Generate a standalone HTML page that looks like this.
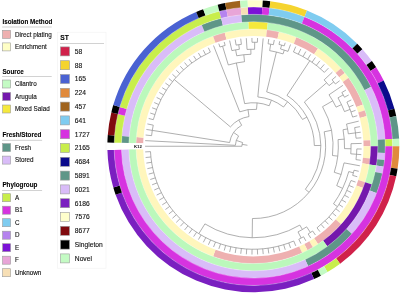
<!DOCTYPE html>
<html><head><meta charset="utf-8"><title>Phylogenetic tree</title>
<style>
html,body{margin:0;padding:0;background:#fff;}
svg{display:block;}
svg text{font-family:"Liberation Sans",sans-serif;}
</style></head><body>
<svg width="400" height="293" viewBox="0 0 400 293">
<rect width="400" height="293" fill="#fff"/>
<path d="M135.94 143.2A117.45 117.45 0 0 1 136.26 137.11L143.48 137.68A110.2 110.2 0 0 0 143.19 143.39Z" fill="#eeb0b0"/>
<path d="M136.26 137.11A117.45 117.45 0 0 1 213.01 35.94L215.5 42.75A110.2 110.2 0 0 0 143.48 137.68Z" fill="#fff6bc"/>
<path d="M213.01 35.94A117.45 117.45 0 0 1 224.66 32.36L226.43 39.39A110.2 110.2 0 0 0 215.5 42.75Z" fill="#eeb0b0"/>
<path d="M224.66 32.36A117.45 117.45 0 0 1 267.03 29.6L266.18 36.8A110.2 110.2 0 0 0 226.43 39.39Z" fill="#fff6bc"/>
<path d="M267.03 29.6A117.45 117.45 0 0 1 279.05 31.65L277.46 38.72A110.2 110.2 0 0 0 266.18 36.8Z" fill="#eeb0b0"/>
<path d="M279.05 31.65A117.45 117.45 0 0 1 296.51 37.02L293.85 43.76A110.2 110.2 0 0 0 277.46 38.72Z" fill="#fff6bc"/>
<path d="M296.51 37.02A117.45 117.45 0 0 1 318.11 48.27L314.11 54.32A110.2 110.2 0 0 0 293.85 43.76Z" fill="#eeb0b0"/>
<path d="M318.11 48.27A117.45 117.45 0 0 1 341.09 68.18L335.68 73A110.2 110.2 0 0 0 314.11 54.32Z" fill="#fff6bc"/>
<path d="M341.09 68.18A117.45 117.45 0 0 1 345.03 72.84L339.37 77.37A110.2 110.2 0 0 0 335.68 73Z" fill="#eeb0b0"/>
<path d="M345.03 72.84A117.45 117.45 0 0 1 348.71 77.69L342.83 81.92A110.2 110.2 0 0 0 339.37 77.37Z" fill="#fff6bc"/>
<path d="M348.71 77.69A117.45 117.45 0 0 1 363.12 104.47L356.34 107.05A110.2 110.2 0 0 0 342.83 81.92Z" fill="#eeb0b0"/>
<path d="M363.12 104.47A117.45 117.45 0 0 1 365.14 110.22L358.24 112.45A110.2 110.2 0 0 0 356.34 107.05Z" fill="#fff6bc"/>
<path d="M365.14 110.22A117.45 117.45 0 0 1 366.86 116.07L359.85 117.94A110.2 110.2 0 0 0 358.24 112.45Z" fill="#eeb0b0"/>
<path d="M366.86 116.07A117.45 117.45 0 0 1 370.64 140.13L363.4 140.51A110.2 110.2 0 0 0 359.85 117.94Z" fill="#fff6bc"/>
<path d="M370.64 140.13A117.45 117.45 0 0 1 370.8 146.22L363.55 146.23A110.2 110.2 0 0 0 363.4 140.51Z" fill="#eeb0b0"/>
<path d="M370.8 146.22A117.45 117.45 0 0 1 370.17 158.4L362.96 157.65A110.2 110.2 0 0 0 363.55 146.23Z" fill="#fff6bc"/>
<path d="M370.17 158.4A117.45 117.45 0 0 1 369.38 164.45L362.22 163.32A110.2 110.2 0 0 0 362.96 157.65Z" fill="#eeb0b0"/>
<path d="M369.38 164.45A117.45 117.45 0 0 1 365.15 182.23L358.25 180.01A110.2 110.2 0 0 0 362.22 163.32Z" fill="#fff6bc"/>
<path d="M365.15 182.23A117.45 117.45 0 0 1 363.14 187.98L356.36 185.41A110.2 110.2 0 0 0 358.25 180.01Z" fill="#eeb0b0"/>
<path d="M363.14 187.98A117.45 117.45 0 0 1 341.13 224.29L335.71 219.47A110.2 110.2 0 0 0 356.36 185.41Z" fill="#fff6bc"/>
<path d="M341.13 224.29A117.45 117.45 0 0 1 318.15 244.2L314.15 238.16A110.2 110.2 0 0 0 335.71 219.47Z" fill="#eeb0b0"/>
<path d="M318.15 244.2A117.45 117.45 0 0 1 312.98 247.44L309.3 241.19A110.2 110.2 0 0 0 314.15 238.16Z" fill="#fff6bc"/>
<path d="M312.98 247.44A117.45 117.45 0 0 1 307.65 250.39L304.3 243.97A110.2 110.2 0 0 0 309.3 241.19Z" fill="#eeb0b0"/>
<path d="M307.65 250.39A117.45 117.45 0 0 1 302.17 253.07L299.16 246.48A110.2 110.2 0 0 0 304.3 243.97Z" fill="#fff6bc"/>
<path d="M302.17 253.07A117.45 117.45 0 0 1 213.06 256.57L215.55 249.76A110.2 110.2 0 0 0 299.16 246.48Z" fill="#eeb0b0"/>
<path d="M213.06 256.57A117.45 117.45 0 0 1 135.94 149.35L143.19 149.16A110.2 110.2 0 0 0 215.55 249.76Z" fill="#fff6bc"/>
<path d="M128.74 143.01A124.65 124.65 0 0 1 248.48 21.7L248.77 29.04A117.3 117.3 0 0 0 136.09 143.21Z" fill="#bbf8bb"/>
<path d="M248.48 21.7A124.65 124.65 0 0 1 267.87 22.45L267.01 29.75A117.3 117.3 0 0 0 248.77 29.04Z" fill="#f5e93c"/>
<path d="M267.87 22.45A124.65 124.65 0 0 1 378 146.22L370.65 146.22A117.3 117.3 0 0 0 267.01 29.75Z" fill="#bbf8bb"/>
<path d="M378 146.22A124.65 124.65 0 0 1 376.49 165.56L369.23 164.42A117.3 117.3 0 0 0 370.65 146.22Z" fill="#7418ac"/>
<path d="M376.49 165.56A124.65 124.65 0 0 1 372.01 184.43L365.01 182.18A117.3 117.3 0 0 0 369.23 164.42Z" fill="#bbf8bb"/>
<path d="M372.01 184.43A124.65 124.65 0 0 1 327.43 246.5L323.06 240.59A117.3 117.3 0 0 0 365.01 182.18Z" fill="#7418ac"/>
<path d="M327.43 246.5A124.65 124.65 0 0 1 128.74 149.54L136.09 149.35A117.3 117.3 0 0 0 323.06 240.59Z" fill="#bbf8bb"/>
<path d="M121.34 142.82A132.05 132.05 0 0 1 121.7 135.98L129.23 136.56A124.5 124.5 0 0 0 128.89 143.02Z" fill="#5f9688"/>
<path d="M121.7 135.98A132.05 132.05 0 0 1 201.62 24.75L204.58 31.7A124.5 124.5 0 0 0 129.23 136.56Z" fill="#d9bcf8"/>
<path d="M201.62 24.75A132.05 132.05 0 0 1 221.1 18.2L222.94 25.52A124.5 124.5 0 0 0 204.58 31.7Z" fill="#5f9688"/>
<path d="M221.1 18.2A132.05 132.05 0 0 1 241.35 14.75L242.04 22.26A124.5 124.5 0 0 0 222.94 25.52Z" fill="#d9bcf8"/>
<path d="M241.35 14.75A132.05 132.05 0 0 1 371.23 86.74L364.49 90.14A124.5 124.5 0 0 0 242.04 22.26Z" fill="#5f9688"/>
<path d="M371.23 86.74A132.05 132.05 0 0 1 385.22 139.37L377.68 139.76A124.5 124.5 0 0 0 364.49 90.14Z" fill="#d9bcf8"/>
<path d="M385.22 139.37A132.05 132.05 0 0 1 385.22 153.07L377.68 152.68A124.5 124.5 0 0 0 377.68 139.76Z" fill="#5f9688"/>
<path d="M385.22 153.07A132.05 132.05 0 0 1 384.69 159.91L377.18 159.13A124.5 124.5 0 0 0 377.68 152.68Z" fill="#d9bcf8"/>
<path d="M384.69 159.91A132.05 132.05 0 0 1 383.81 166.71L376.35 165.54A124.5 124.5 0 0 0 377.18 159.13Z" fill="#5f9688"/>
<path d="M383.81 166.71A132.05 132.05 0 0 1 382.57 173.45L375.18 171.9A124.5 124.5 0 0 0 376.35 165.54Z" fill="#d9bcf8"/>
<path d="M382.57 173.45A132.05 132.05 0 0 1 376.78 193.17L369.73 190.49A124.5 124.5 0 0 0 375.18 171.9Z" fill="#5f9688"/>
<path d="M376.78 193.17A132.05 132.05 0 0 1 352.04 233.99L346.4 228.97A124.5 124.5 0 0 0 369.73 190.49Z" fill="#d9bcf8"/>
<path d="M352.04 233.99A132.05 132.05 0 0 1 308.24 266.35L305.1 259.48A124.5 124.5 0 0 0 346.4 228.97Z" fill="#5f9688"/>
<path d="M308.24 266.35A132.05 132.05 0 0 1 121.35 149.74L128.89 149.54A124.5 124.5 0 0 0 305.1 259.48Z" fill="#d9bcf8"/>
<path d="M114.05 142.63A139.35 139.35 0 0 1 117.79 113.99L125.03 115.71A131.9 131.9 0 0 0 121.49 142.83Z" fill="#c8ee4c"/>
<path d="M117.79 113.99A139.35 139.35 0 0 1 119.64 106.99L126.79 109.09A131.9 131.9 0 0 0 125.03 115.71Z" fill="#d633e0"/>
<path d="M119.64 106.99A139.35 139.35 0 0 1 219.31 11.12L221.13 18.34A131.9 131.9 0 0 0 126.79 109.09Z" fill="#c8ee4c"/>
<path d="M219.31 11.12A139.35 139.35 0 0 1 226.37 9.54L227.82 16.85A131.9 131.9 0 0 0 221.13 18.34Z" fill="#b583ee"/>
<path d="M226.37 9.54A139.35 139.35 0 0 1 240.69 7.48L241.37 14.9A131.9 131.9 0 0 0 227.82 16.85Z" fill="#e8a5d8"/>
<path d="M240.69 7.48A139.35 139.35 0 0 1 247.91 7.01L248.2 14.45A131.9 131.9 0 0 0 241.37 14.9Z" fill="#f7dfb5"/>
<path d="M247.91 7.01A139.35 139.35 0 0 1 262.37 7.19L261.89 14.63A131.9 131.9 0 0 0 248.2 14.45Z" fill="#7b12d6"/>
<path d="M262.37 7.19A139.35 139.35 0 0 1 269.58 7.85L268.71 15.25A131.9 131.9 0 0 0 261.89 14.63Z" fill="#d633e0"/>
<path d="M269.58 7.85A139.35 139.35 0 0 1 304.56 16.65L301.83 23.58A131.9 131.9 0 0 0 268.71 15.25Z" fill="#7fccf0"/>
<path d="M304.56 16.65A139.35 139.35 0 0 1 392.51 138.99L385.07 139.38A131.9 131.9 0 0 0 301.83 23.58Z" fill="#d633e0"/>
<path d="M392.51 138.99A139.35 139.35 0 0 1 392.7 146.22L385.25 146.22A131.9 131.9 0 0 0 385.07 139.38Z" fill="#c8ee4c"/>
<path d="M392.7 146.22A139.35 139.35 0 0 1 114.05 149.93L121.5 149.73A131.9 131.9 0 0 0 385.25 146.22Z" fill="#d633e0"/>
<path d="M107.4 142.46A146 146 0 0 1 107.79 134.89L114.57 135.42A139.2 139.2 0 0 0 114.2 142.64Z" fill="#000000"/>
<path d="M107.79 134.89A146 146 0 0 1 111.32 112.45L117.93 114.02A139.2 139.2 0 0 0 114.57 135.42Z" fill="#800a0e"/>
<path d="M111.32 112.45A146 146 0 0 1 113.26 105.12L119.79 107.04A139.2 139.2 0 0 0 117.93 114.02Z" fill="#000000"/>
<path d="M113.26 105.12A146 146 0 0 1 196.16 11.92L198.82 18.18A139.2 139.2 0 0 0 119.79 107.04Z" fill="#4a62d2"/>
<path d="M196.16 11.92A146 146 0 0 1 203.21 9.13L205.54 15.52A139.2 139.2 0 0 0 198.82 18.18Z" fill="#000000"/>
<path d="M203.21 9.13A146 146 0 0 1 217.69 4.67L219.35 11.27A139.2 139.2 0 0 0 205.54 15.52Z" fill="#c4fbc4"/>
<path d="M217.69 4.67A146 146 0 0 1 225.09 3.01L226.4 9.68A139.2 139.2 0 0 0 219.35 11.27Z" fill="#000000"/>
<path d="M225.09 3.01A146 146 0 0 1 240.09 0.85L240.7 7.63A139.2 139.2 0 0 0 226.4 9.68Z" fill="#a0641f"/>
<path d="M240.09 0.85A146 146 0 0 1 247.65 0.36L247.92 7.16A139.2 139.2 0 0 0 240.7 7.63Z" fill="#c4fbc4"/>
<path d="M247.65 0.36A146 146 0 0 1 262.8 0.56L262.36 7.34A139.2 139.2 0 0 0 247.92 7.16Z" fill="#ffffcc"/>
<path d="M262.8 0.56A146 146 0 0 1 270.35 1.24L269.56 8A139.2 139.2 0 0 0 262.36 7.34Z" fill="#000000"/>
<path d="M270.35 1.24A146 146 0 0 1 307.01 10.47L304.51 16.79A139.2 139.2 0 0 0 269.56 8Z" fill="#f5d42f"/>
<path d="M307.01 10.47A146 146 0 0 1 357.24 43.67L352.4 48.45A139.2 139.2 0 0 0 304.51 16.79Z" fill="#7fccf0"/>
<path d="M357.24 43.67A146 146 0 0 1 362.42 49.2L357.34 53.72A139.2 139.2 0 0 0 352.4 48.45Z" fill="#000000"/>
<path d="M362.42 49.2A146 146 0 0 1 371.9 61.03L366.37 65A139.2 139.2 0 0 0 357.34 53.72Z" fill="#d9bcf8"/>
<path d="M371.9 61.03A146 146 0 0 1 376.16 67.29L370.44 70.97A139.2 139.2 0 0 0 366.37 65Z" fill="#000000"/>
<path d="M376.16 67.29A146 146 0 0 1 383.68 80.45L377.61 83.51A139.2 139.2 0 0 0 370.44 70.97Z" fill="#d633e0"/>
<path d="M383.68 80.45A146 146 0 0 1 394.45 108.74L387.88 110.49A139.2 139.2 0 0 0 377.61 83.51Z" fill="#0b0b8c"/>
<path d="M394.45 108.74A146 146 0 0 1 396.21 116.11L389.55 117.52A139.2 139.2 0 0 0 387.88 110.49Z" fill="#000000"/>
<path d="M396.21 116.11A146 146 0 0 1 399.15 138.64L392.36 139A139.2 139.2 0 0 0 389.55 117.52Z" fill="#5f9688"/>
<path d="M399.15 138.64A146 146 0 0 1 399.35 146.22L392.55 146.22A139.2 139.2 0 0 0 392.36 139Z" fill="#c4fbc4"/>
<path d="M399.35 146.22A146 146 0 0 1 397.59 168.87L390.87 167.82A139.2 139.2 0 0 0 392.55 146.22Z" fill="#e08a3c"/>
<path d="M397.59 168.87A146 146 0 0 1 396.22 176.32L389.56 174.92A139.2 139.2 0 0 0 390.87 167.82Z" fill="#000000"/>
<path d="M396.22 176.32A146 146 0 0 1 340.12 263.67L336.08 258.2A139.2 139.2 0 0 0 389.56 174.92Z" fill="#d0214a"/>
<path d="M340.12 263.67A146 146 0 0 1 327.48 272.03L324.03 266.17A139.2 139.2 0 0 0 336.08 258.2Z" fill="#c8ee4c"/>
<path d="M327.48 272.03A146 146 0 0 1 320.85 275.71L317.71 269.68A139.2 139.2 0 0 0 324.03 266.17Z" fill="#c4fbc4"/>
<path d="M320.85 275.71A146 146 0 0 1 314.04 279.04L311.21 272.85A139.2 139.2 0 0 0 317.71 269.68Z" fill="#000000"/>
<path d="M314.04 279.04A146 146 0 0 1 115.61 194.66L122.02 192.4A139.2 139.2 0 0 0 311.21 272.85Z" fill="#7a1fc0"/>
<path d="M115.61 194.66A146 146 0 0 1 113.28 187.44L119.8 185.52A139.2 139.2 0 0 0 122.02 192.4Z" fill="#000000"/>
<path d="M113.28 187.44A146 146 0 0 1 107.4 150.1L114.2 149.92A139.2 139.2 0 0 0 119.8 185.52Z" fill="#7a1fc0"/>
<path d="M136.09 143.21A117.3 117.3 0 1 1 136.09 149.29" fill="none" stroke="#fff" stroke-opacity="0.4" stroke-width="0.7"/>
<path d="M128.89 143.02A124.5 124.5 0 1 1 128.89 149.48" fill="none" stroke="#fff" stroke-opacity="0.4" stroke-width="0.7"/>
<path d="M121.49 142.83A131.9 131.9 0 1 1 121.49 149.67" fill="none" stroke="#fff" stroke-opacity="0.4" stroke-width="0.7"/>
<path d="M114.2 142.64A139.2 139.2 0 1 1 114.2 149.86" fill="none" stroke="#fff" stroke-opacity="0.4" stroke-width="0.7"/>
<path d="M241.95 146.25A11.4 11.4 0 0 1 242.57 142.55M241.95 146.25L145.05 146.25M242.57 142.55L236.33 140.41M235.37 145.32A18 18 0 0 1 238.59 135.95M235.37 145.32L145.2 140.63M238.59 135.95L233.67 132.51M229.64 142.53A24 24 0 0 1 241.68 125.28M229.64 142.53L152.29 130.38M151.6 135.65A102.3 102.3 0 0 1 153.25 125.16M151.6 135.65L145.63 135.02M152.29 130.38L146.36 129.45M153.25 125.16L147.38 123.92M241.68 125.28L238.77 120.03M230.42 126.9A30 30 0 0 1 249.01 116.57M230.42 126.9L174.25 79.5M153.32 119.68A103.5 103.5 0 0 1 210.35 52.11M153.32 119.68L148.68 118.45M154.83 114.52L150.26 113.05M156.61 109.45L152.13 107.75M158.65 104.48L154.26 102.55M160.95 99.62L156.66 97.46M163.49 94.89L159.32 92.51M166.28 90.3L162.24 87.7M169.3 85.85L165.4 83.05M172.55 81.57L168.8 78.57M176.01 77.47L172.43 74.28M179.69 73.55L176.27 70.17M183.56 69.82L180.32 66.28M187.62 66.3L184.57 62.59M191.86 63L189.01 59.14M196.26 59.92L193.61 55.91M200.82 57.07L198.38 52.94M205.52 54.47L203.3 50.21M210.35 52.11L208.35 47.74M249.01 116.57L247.99 109.64M239.74 111.84A37 37 0 0 1 256.53 109.39M239.74 111.84L213.53 45.54M256.53 109.39L257.09 102.91M244.65 103.63A43.5 43.5 0 0 1 269.21 105.75M244.65 103.63L236.35 62.97M228.34 65.01A85 85 0 0 1 244.53 61.71M228.34 65.01L222.54 46.19M219.95 47.02A104.7 104.7 0 0 1 225.15 45.42M219.95 47.02L218.81 43.61M225.15 45.42L224.18 41.95M244.53 61.71L243.8 54.75M236.71 55.77A92 92 0 0 1 250.95 54.28M236.71 55.77L235.63 49.87M231.89 50.63A98 98 0 0 1 239.39 49.25M231.89 50.63L229.63 40.58M239.39 49.25L238.74 44.7M236.11 45.11A102.6 102.6 0 0 1 241.38 44.35M236.11 45.11L235.15 39.49M241.38 44.35L240.71 38.69M250.95 54.28L250.82 49.28M247.05 49.45A97 97 0 0 1 254.6 49.26M247.05 49.45L246.31 38.18M254.6 49.26L254.69 42.26M251.99 42.26A104 104 0 0 1 257.39 42.33M251.99 42.26L251.93 37.96M257.39 42.33L257.55 38.03M269.21 105.75L271.4 100.16M257.84 96.95A49.5 49.5 0 0 1 283.54 107.02M257.84 96.95L263.17 38.4M283.54 107.02L287.5 101.87M266.66 91.86A56 56 0 0 1 302.52 119.44M266.66 91.86L276.41 52.03M269.63 50.63A97 97 0 0 1 283.07 53.92M269.63 50.63L270.72 44.22M268.07 43.8A103.5 103.5 0 0 1 273.36 44.7M268.07 43.8L268.75 39.05M273.36 44.7L274.29 39.99M283.07 53.92L284.3 50.11M280.53 48.98A101 101 0 0 1 288.02 51.39M280.53 48.98L281.61 45.12M278.97 44.42A105 105 0 0 1 284.22 45.89M278.97 44.42L279.78 41.22M284.22 45.89L285.19 42.74M288.02 51.39L290.52 44.53M302.52 119.44L306.91 117.05M286.98 95.36A61 61 0 0 1 314.35 145.54M286.98 95.36L309.87 60.74M293.48 51.93A102.5 102.5 0 0 1 324.39 72.36M293.48 51.93L295.75 46.6M298.32 54.14L300.87 48.93M303.04 56.6L305.85 51.53M307.63 59.3L310.7 54.38M312.07 62.24L315.39 57.48M316.35 65.4L319.91 60.82M320.46 68.78L324.26 64.39M324.39 72.36L328.41 68.18M314.35 145.54L320.85 145.47M304.36 102.04A67.5 67.5 0 0 1 305.37 189.27M304.36 102.04L326.65 82.72M324.12 79.91A97 97 0 0 1 329.06 85.62M324.12 79.91L332.36 72.18M329.06 85.62L333.75 81.87M332.05 79.8A103 103 0 0 1 335.39 83.98M332.05 79.8L336.1 76.38M335.39 83.98L339.61 80.77M305.37 189.27L309.06 192.33M324.19 131.79A72.3 72.3 0 0 1 252.44 218.54M324.19 131.79L331.44 130.31M322.54 106.69A79.7 79.7 0 0 1 332.51 155.52M322.54 106.69L332.78 100.83M329.01 94.79A91.5 91.5 0 0 1 336.07 107.15M329.01 94.79L342.9 85.34M336.07 107.15L341.5 104.58M337.99 97.85A97.5 97.5 0 0 1 344.47 111.57M337.99 97.85L343.2 94.87M341.83 92.56A103.5 103.5 0 0 1 344.5 97.22M341.83 92.56L345.94 90.07M344.5 97.22L348.73 94.95M344.47 111.57L350.08 109.43M346.92 102.02A103.5 103.5 0 0 1 352.65 117.07M346.92 102.02L351.26 99.97M349.09 106.93L353.53 105.11M351 111.96L355.53 110.37M352.65 117.07L357.26 115.72M332.51 155.52L337.77 156.14M338.09 139.62A85 85 0 0 1 334.26 172.29M338.09 139.62L344.27 139.13M343.04 129.75A91.2 91.2 0 0 1 344.52 148.6M343.04 129.75L347.57 128.92M346.54 124.05A95.8 95.8 0 0 1 348.34 133.83M346.54 124.05L358.7 121.15M348.34 133.83L355.48 132.89M354.65 127.61A103 103 0 0 1 356.04 138.21M354.65 127.61L359.86 126.65M355.48 132.89L360.74 132.21M356.04 138.21L361.32 137.8M344.52 148.6L351.02 148.76M351.02 143.69A97.7 97.7 0 0 1 350.76 153.83M351.02 143.69L361.61 143.42M350.76 153.83L356.54 154.28M356.82 148.91A103.5 103.5 0 0 1 355.98 159.63M356.82 148.91L361.61 149.04M356.54 154.28L361.32 154.65M355.98 159.63L360.74 160.25M334.26 172.29L341.12 174.49M344.04 162.89A92.2 92.2 0 0 1 336.72 185.62M344.04 162.89L359.87 165.8M336.72 185.62L342.6 188.39M348.75 171.57A98.7 98.7 0 0 1 333.52 203.83M348.75 171.57L353.39 172.8M354.04 170.19A103.5 103.5 0 0 1 352.66 175.39M354.04 170.19L358.71 171.3M352.66 175.39L357.27 176.74M333.52 203.83L337.41 206.63M351.02 180.5A103.5 103.5 0 0 1 317 227.86M351.02 180.5L355.55 182.09M349.11 185.52L353.55 187.35M346.94 190.44L351.28 192.49M344.52 195.24L348.75 197.51M341.86 199.9L345.96 202.39M338.95 204.43L342.92 207.12M335.82 208.79L339.64 211.69M332.46 212.99L336.13 216.08M328.89 217L332.39 220.28M325.12 220.83L328.45 224.29M321.15 224.45L324.29 228.08M317 227.86L319.95 231.65M252.44 218.54L252.19 237.74M299.81 225.08A91.5 91.5 0 0 1 204.91 223.88M299.81 225.08L302.4 229.47M306.65 226.82A96.6 96.6 0 0 1 298.01 231.91M306.65 226.82L310.4 232.49M312.62 230.98A103.4 103.4 0 0 1 308.14 233.94M312.62 230.98L315.43 234.99M308.14 233.94L310.74 238.09M298.01 231.91L301.2 238.02M303.57 236.75A103.5 103.5 0 0 1 298.8 239.24M303.57 236.75L305.9 240.95M298.8 239.24L300.91 243.55M204.91 223.88L198.83 233.63M293.72 241.01A103 103 0 0 1 150.49 151.64M293.72 241.01L295.8 245.89M288.75 242.98L290.57 247.95M283.68 244.68L285.24 249.75M278.53 246.12L279.83 251.26M273.31 247.3L274.34 252.5M268.04 248.2L268.8 253.44M262.73 248.82L263.21 254.1M257.39 249.17L257.6 254.47M252.05 249.24L251.98 254.54M246.7 249.04L246.36 254.32M241.38 248.55L240.76 253.82M236.08 247.79L235.2 253.02M230.84 246.76L229.68 251.93M225.65 245.46L224.23 250.56M220.54 243.88L218.85 248.91M215.52 242.05L213.57 246.98M210.6 239.96L208.4 244.78M205.79 237.61L203.34 242.31M201.11 235.02L198.42 239.59M196.58 232.19L193.65 236.61M192.19 229.13L189.04 233.39M187.97 225.84L184.61 229.94M183.93 222.34L180.36 226.26M180.07 218.64L176.3 222.36M176.42 214.74L172.46 218.26M172.97 210.65L168.83 213.96M169.73 206.39L165.43 209.49M166.72 201.97L162.27 204.84M163.95 197.4L159.35 200.03M161.41 192.69L156.68 195.08M159.13 187.86L154.28 190M157.09 182.91L152.14 184.8M155.32 177.86L150.28 179.49M153.81 172.73L148.69 174.1M152.57 167.53L147.39 168.63M151.6 162.27L146.37 163.1M150.91 156.97L145.64 157.52M150.49 151.64L145.2 151.92M247.43 145.26L242.11 144.37" fill="none" stroke="#8c8c8c" stroke-width="0.7"/>
<rect x="133" y="143.2" width="10.4" height="6" fill="#fff"/>
<text x="134" y="147.7" font-size="4.3" font-weight="bold" fill="#111">K12</text>
<rect x="57.5" y="32.2" width="48.5" height="236" fill="none" stroke="#f1f1f1" stroke-width="0.6"/>
<text x="2.4" y="24" font-size="6.3" font-weight="bold" fill="#000" stroke="#000" stroke-width="0.1">Isolation Method</text>
<rect x="2.1" y="26.7" width="49.6" height="0.6" fill="#b4b4b4"/>
<rect x="2.6" y="30.4" width="8" height="8" fill="#eeb0b0" stroke="#9c9c9c" stroke-width="0.6"/>
<text x="15" y="36.66" font-size="6.3" fill="#111" stroke="#111" stroke-width="0.12">Direct plating</text>
<rect x="2.6" y="42.9" width="8" height="8" fill="#ffffc6" stroke="#9c9c9c" stroke-width="0.6"/>
<text x="15" y="49.16" font-size="6.3" fill="#111" stroke="#111" stroke-width="0.12">Enrichment</text>
<text x="2.4" y="73.6" font-size="6.3" font-weight="bold" fill="#000" stroke="#000" stroke-width="0.1">Source</text>
<rect x="2.1" y="76.3" width="49.6" height="0.6" fill="#b4b4b4"/>
<rect x="2.6" y="80" width="8" height="8" fill="#c4fbc4" stroke="#9c9c9c" stroke-width="0.6"/>
<text x="15" y="86.26" font-size="6.3" fill="#111" stroke="#111" stroke-width="0.12">Cilantro</text>
<rect x="2.6" y="92.5" width="8" height="8" fill="#7418ac" stroke="#9c9c9c" stroke-width="0.6"/>
<text x="15" y="98.76" font-size="6.3" fill="#111" stroke="#111" stroke-width="0.12">Arugula</text>
<rect x="2.6" y="105" width="8" height="8" fill="#f5e93c" stroke="#9c9c9c" stroke-width="0.6"/>
<text x="15" y="111.26" font-size="6.3" fill="#111" stroke="#111" stroke-width="0.12">Mixed Salad</text>
<text x="2.4" y="137.2" font-size="6.3" font-weight="bold" fill="#000" stroke="#000" stroke-width="0.1">Fresh/Stored</text>
<rect x="2.1" y="139.9" width="40" height="0.6" fill="#b4b4b4"/>
<rect x="2.6" y="143.6" width="8" height="8" fill="#5f9688" stroke="#9c9c9c" stroke-width="0.6"/>
<text x="15" y="149.86" font-size="6.3" fill="#111" stroke="#111" stroke-width="0.12">Fresh</text>
<rect x="2.6" y="156.1" width="8" height="8" fill="#d9bcf8" stroke="#9c9c9c" stroke-width="0.6"/>
<text x="15" y="162.36" font-size="6.3" fill="#111" stroke="#111" stroke-width="0.12">Stored</text>
<text x="2.4" y="187.3" font-size="6.3" font-weight="bold" fill="#000" stroke="#000" stroke-width="0.1">Phylogroup</text>
<rect x="2.1" y="190" width="40" height="0.6" fill="#b4b4b4"/>
<rect x="2.6" y="193.7" width="8" height="8" fill="#c8ee4c" stroke="#9c9c9c" stroke-width="0.6"/>
<text x="15" y="199.96" font-size="6.3" fill="#111" stroke="#111" stroke-width="0.12">A</text>
<rect x="2.6" y="206.2" width="8" height="8" fill="#d633e0" stroke="#9c9c9c" stroke-width="0.6"/>
<text x="15" y="212.46" font-size="6.3" fill="#111" stroke="#111" stroke-width="0.12">B1</text>
<rect x="2.6" y="218.7" width="8" height="8" fill="#7fccf0" stroke="#9c9c9c" stroke-width="0.6"/>
<text x="15" y="224.96" font-size="6.3" fill="#111" stroke="#111" stroke-width="0.12">C</text>
<rect x="2.6" y="231.2" width="8" height="8" fill="#b583ee" stroke="#9c9c9c" stroke-width="0.6"/>
<text x="15" y="237.46" font-size="6.3" fill="#111" stroke="#111" stroke-width="0.12">D</text>
<rect x="2.6" y="243.7" width="8" height="8" fill="#7b12d6" stroke="#9c9c9c" stroke-width="0.6"/>
<text x="15" y="249.96" font-size="6.3" fill="#111" stroke="#111" stroke-width="0.12">E</text>
<rect x="2.6" y="256.2" width="8" height="8" fill="#e8a5d8" stroke="#9c9c9c" stroke-width="0.6"/>
<text x="15" y="262.46" font-size="6.3" fill="#111" stroke="#111" stroke-width="0.12">F</text>
<rect x="2.6" y="268.7" width="8" height="8" fill="#f7dfb5" stroke="#9c9c9c" stroke-width="0.6"/>
<text x="15" y="274.96" font-size="6.3" fill="#111" stroke="#111" stroke-width="0.12">Unknown</text>
<text x="60.3" y="39.8" font-size="6.7" font-weight="bold" fill="#000" stroke="#000" stroke-width="0.1">ST</text>
<rect x="60" y="43.1" width="44" height="0.6" fill="#b4b4b4"/>
<rect x="60.5" y="46.9" width="9" height="9" fill="#d0214a" stroke="#9c9c9c" stroke-width="0.6"/>
<text x="74.8" y="53.8" font-size="6.7" fill="#111" stroke="#111" stroke-width="0.12">58</text>
<rect x="60.5" y="60.7" width="9" height="9" fill="#f5d42f" stroke="#9c9c9c" stroke-width="0.6"/>
<text x="74.8" y="67.6" font-size="6.7" fill="#111" stroke="#111" stroke-width="0.12">88</text>
<rect x="60.5" y="74.5" width="9" height="9" fill="#4a62d2" stroke="#9c9c9c" stroke-width="0.6"/>
<text x="74.8" y="81.4" font-size="6.7" fill="#111" stroke="#111" stroke-width="0.12">165</text>
<rect x="60.5" y="88.3" width="9" height="9" fill="#e08a3c" stroke="#9c9c9c" stroke-width="0.6"/>
<text x="74.8" y="95.2" font-size="6.7" fill="#111" stroke="#111" stroke-width="0.12">224</text>
<rect x="60.5" y="102.1" width="9" height="9" fill="#a0641f" stroke="#9c9c9c" stroke-width="0.6"/>
<text x="74.8" y="109" font-size="6.7" fill="#111" stroke="#111" stroke-width="0.12">457</text>
<rect x="60.5" y="115.9" width="9" height="9" fill="#7fccf0" stroke="#9c9c9c" stroke-width="0.6"/>
<text x="74.8" y="122.8" font-size="6.7" fill="#111" stroke="#111" stroke-width="0.12">641</text>
<rect x="60.5" y="129.7" width="9" height="9" fill="#d633e0" stroke="#9c9c9c" stroke-width="0.6"/>
<text x="74.8" y="136.6" font-size="6.7" fill="#111" stroke="#111" stroke-width="0.12">1727</text>
<rect x="60.5" y="143.5" width="9" height="9" fill="#c8ee4c" stroke="#9c9c9c" stroke-width="0.6"/>
<text x="74.8" y="150.4" font-size="6.7" fill="#111" stroke="#111" stroke-width="0.12">2165</text>
<rect x="60.5" y="157.3" width="9" height="9" fill="#0b0b8c" stroke="#9c9c9c" stroke-width="0.6"/>
<text x="74.8" y="164.2" font-size="6.7" fill="#111" stroke="#111" stroke-width="0.12">4684</text>
<rect x="60.5" y="171.1" width="9" height="9" fill="#5f9688" stroke="#9c9c9c" stroke-width="0.6"/>
<text x="74.8" y="178" font-size="6.7" fill="#111" stroke="#111" stroke-width="0.12">5891</text>
<rect x="60.5" y="184.9" width="9" height="9" fill="#d9bcf8" stroke="#9c9c9c" stroke-width="0.6"/>
<text x="74.8" y="191.8" font-size="6.7" fill="#111" stroke="#111" stroke-width="0.12">6021</text>
<rect x="60.5" y="198.7" width="9" height="9" fill="#7a1fc0" stroke="#9c9c9c" stroke-width="0.6"/>
<text x="74.8" y="205.6" font-size="6.7" fill="#111" stroke="#111" stroke-width="0.12">6186</text>
<rect x="60.5" y="212.5" width="9" height="9" fill="#ffffcc" stroke="#9c9c9c" stroke-width="0.6"/>
<text x="74.8" y="219.4" font-size="6.7" fill="#111" stroke="#111" stroke-width="0.12">7576</text>
<rect x="60.5" y="226.3" width="9" height="9" fill="#800a0e" stroke="#9c9c9c" stroke-width="0.6"/>
<text x="74.8" y="233.2" font-size="6.7" fill="#111" stroke="#111" stroke-width="0.12">8677</text>
<rect x="60.5" y="240.1" width="9" height="9" fill="#000000" stroke="#9c9c9c" stroke-width="0.6"/>
<text x="74.8" y="247" font-size="6.7" fill="#111" stroke="#111" stroke-width="0.12">Singleton</text>
<rect x="60.5" y="253.9" width="9" height="9" fill="#c4fbc4" stroke="#9c9c9c" stroke-width="0.6"/>
<text x="74.8" y="260.8" font-size="6.7" fill="#111" stroke="#111" stroke-width="0.12">Novel</text>
</svg>
</body></html>
